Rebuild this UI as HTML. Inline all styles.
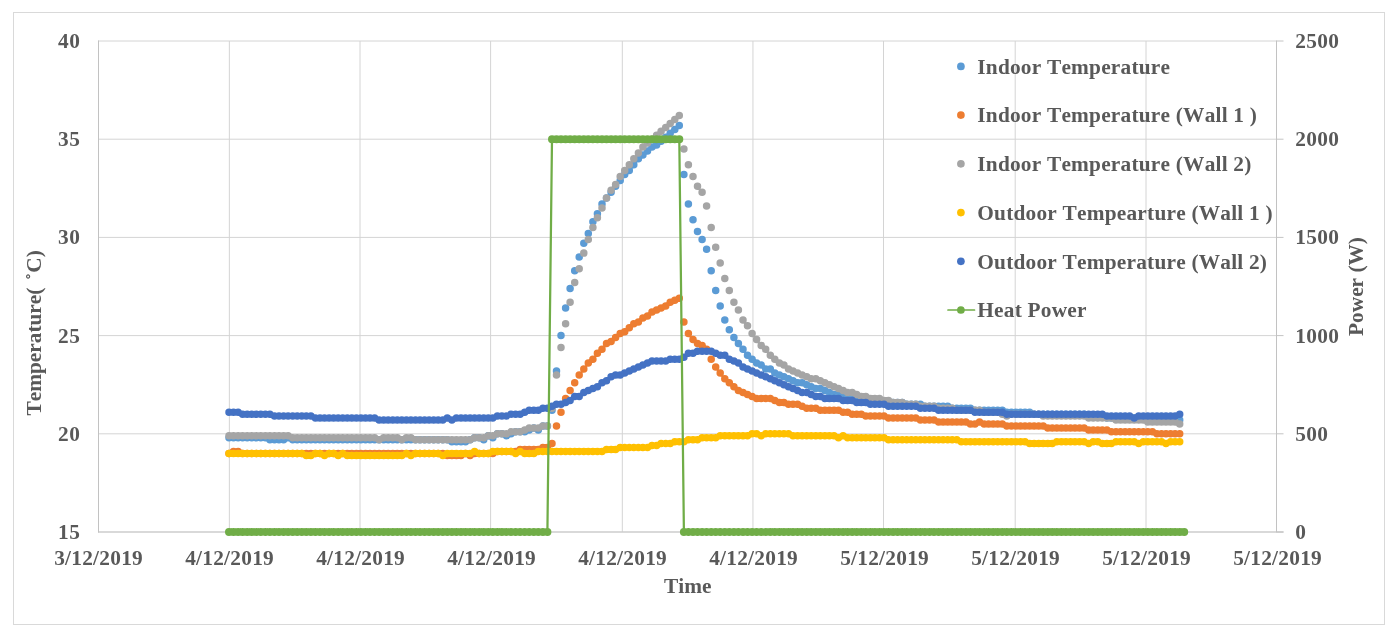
<!DOCTYPE html>
<html lang="en">
<head>
<meta charset="utf-8">
<title>Temperature and Heat Power Chart</title>
<style>
html,body{margin:0;padding:0;background:#fff;}
body{width:1398px;height:637px;overflow:hidden;}
svg{display:block;}
text{font-kerning:none;font-family:"Liberation Serif",serif;font-weight:bold;font-size:21.33px;fill:#595959;}
.d{fill:none;stroke-linecap:round;stroke-width:7.5;}
</style>
</head>
<body>
<svg width="1398" height="637" viewBox="0 0 1398 637">
<rect x="0" y="0" width="1398" height="637" fill="#ffffff"/>
<rect x="13.5" y="12.5" width="1371" height="612" fill="#ffffff" stroke="#D9D9D9" stroke-width="1"/>
<path d="M98.0 41.00H1277.0M98.0 139.20H1277.0M98.0 237.40H1277.0M98.0 335.60H1277.0M98.0 433.80H1277.0M229.35 41.0V532.0M360.00 41.0V532.0M490.60 41.0V532.0M622.30 41.0V532.0M752.95 41.0V532.0M883.50 41.0V532.0M1015.20 41.0V532.0M1146.00 41.0V532.0" stroke="#D4D4D4" stroke-width="1" fill="none"/>
<path d="M98.0 532.0H1283.5" stroke="#CCCCCC" stroke-width="1.5" fill="none"/>
<path d="M1277.0 41.00H1283.5M1277.0 139.20H1283.5M1277.0 237.40H1283.5M1277.0 335.60H1283.5M1277.0 433.80H1283.5M1277.0 532.00H1283.5" stroke="#C4C4C4" stroke-width="1" fill="none"/>
<path d="M98.5 40.5V532.5M1276.5 40.5V532.5" stroke="#C2C2C2" stroke-width="1" fill="none"/>
<text x="80.4" y="47.9" text-anchor="end" letter-spacing="0.5">40</text>
<text x="80.4" y="146.1" text-anchor="end" letter-spacing="0.5">35</text>
<text x="80.4" y="244.3" text-anchor="end" letter-spacing="0.5">30</text>
<text x="80.4" y="342.5" text-anchor="end" letter-spacing="0.5">25</text>
<text x="80.4" y="440.7" text-anchor="end" letter-spacing="0.5">20</text>
<text x="80.4" y="538.9" text-anchor="end" letter-spacing="0.5">15</text>
<text x="1295.3" y="47.9" letter-spacing="0.3">2500</text>
<text x="1295.3" y="146.1" letter-spacing="0.3">2000</text>
<text x="1295.3" y="244.3" letter-spacing="0.3">1500</text>
<text x="1295.3" y="342.5" letter-spacing="0.3">1000</text>
<text x="1295.3" y="440.7" letter-spacing="0.3">500</text>
<text x="1295.3" y="538.9" letter-spacing="0.3">0</text>
<text x="98.6" y="565" text-anchor="middle" letter-spacing="0.27">3/12/2019</text>
<text x="229.6" y="565" text-anchor="middle" letter-spacing="0.27">4/12/2019</text>
<text x="360.6" y="565" text-anchor="middle" letter-spacing="0.27">4/12/2019</text>
<text x="491.6" y="565" text-anchor="middle" letter-spacing="0.27">4/12/2019</text>
<text x="622.6" y="565" text-anchor="middle" letter-spacing="0.27">4/12/2019</text>
<text x="753.6" y="565" text-anchor="middle" letter-spacing="0.27">4/12/2019</text>
<text x="884.6" y="565" text-anchor="middle" letter-spacing="0.27">5/12/2019</text>
<text x="1015.6" y="565" text-anchor="middle" letter-spacing="0.27">5/12/2019</text>
<text x="1146.6" y="565" text-anchor="middle" letter-spacing="0.27">5/12/2019</text>
<text x="1277.6" y="565" text-anchor="middle" letter-spacing="0.27">5/12/2019</text>
<text x="687.8" y="593.4" text-anchor="middle">Time</text>
<text transform="translate(41.4 332.9) rotate(-90)" text-anchor="middle" word-spacing="2.4">Temperature( ˚C)</text>
<text transform="translate(1363.1 286.5) rotate(-90)" text-anchor="middle">Power (W)</text>
<path class="d" stroke="#5B9BD5" d="M229.0 437.7h0M233.5 437.7h0M238.1 437.7h0M242.6 437.7h0M247.2 437.7h0M251.7 437.7h0M256.3 437.7h0M260.8 437.7h0M265.4 437.7h0M269.9 439.7h0M274.5 439.7h0M279.0 439.7h0M283.6 439.7h0M288.1 437.7h0M292.7 439.7h0M297.2 439.7h0M301.8 439.7h0M306.3 439.7h0M310.9 439.7h0M315.4 439.7h0M320.0 439.7h0M324.5 439.7h0M329.1 439.7h0M333.6 439.7h0M338.2 439.7h0M342.7 439.7h0M347.3 439.7h0M351.8 439.7h0M356.4 439.7h0M360.9 439.7h0M365.5 439.7h0M370.0 439.7h0M374.6 439.7h0M379.1 439.7h0M383.7 439.7h0M388.2 439.7h0M392.8 439.7h0M397.3 439.7h0M401.8 439.7h0M406.4 439.7h0M410.9 439.7h0M415.5 439.7h0M420.0 439.7h0M424.6 439.7h0M429.1 439.7h0M433.7 439.7h0M438.2 439.7h0M442.8 439.7h0M447.3 439.7h0M451.9 441.7h0M456.4 441.7h0M461.0 441.7h0M465.5 441.7h0M470.1 439.7h0M474.6 437.7h0M479.2 437.7h0M483.7 439.7h0M488.3 435.8h0M492.8 437.7h0M497.4 433.8h0M501.9 433.8h0M506.5 435.8h0M511.0 433.8h0M515.6 431.8h0M520.1 431.8h0M524.7 431.8h0M529.2 429.9h0M533.8 427.9h0M538.3 429.9h0M542.9 425.9h0M547.4 425.9h0M552.0 410.2h0M556.5 371.0h0M561.0 335.6h0M565.6 308.1h0M570.1 288.5h0M574.7 270.8h0M579.2 257.0h0M583.8 243.3h0M588.3 233.5h0M592.9 221.7h0M597.4 213.8h0M602.0 204.0h0M606.5 198.1h0M611.1 192.2h0M615.6 186.3h0M620.2 180.4h0M624.7 174.6h0M629.3 170.6h0M633.8 164.7h0M638.4 158.8h0M642.9 154.9h0M647.5 151.0h0M652.0 147.1h0M656.6 145.1h0M661.1 141.2h0M665.7 137.2h0M670.2 133.3h0M674.8 129.4h0M679.3 125.5h0M683.9 174.6h0M688.4 204.0h0M693.0 219.7h0M697.5 231.5h0M702.1 239.4h0M706.6 249.2h0M711.2 270.8h0M715.7 290.4h0M720.2 306.1h0M724.8 319.9h0M729.3 329.7h0M733.9 337.6h0M738.4 343.5h0M743.0 349.3h0M747.5 355.2h0M752.1 359.2h0M756.6 363.1h0M761.2 365.1h0M765.7 369.0h0M770.3 369.0h0M774.8 372.9h0M779.4 374.9h0M783.9 376.8h0M788.5 378.8h0M793.0 380.8h0M797.6 382.7h0M802.1 382.7h0M806.7 384.7h0M811.2 386.7h0M815.8 388.6h0M820.3 388.6h0M824.9 390.6h0M829.4 392.6h0M834.0 394.5h0M838.5 394.5h0M843.1 396.5h0M847.6 396.5h0M852.2 398.4h0M856.7 398.4h0M861.3 398.4h0M865.8 400.4h0M870.4 400.4h0M874.9 400.4h0M879.5 400.4h0M884.0 402.4h0M888.5 402.4h0M893.1 402.4h0M897.6 402.4h0M902.2 402.4h0M906.7 404.3h0M911.3 404.3h0M915.8 404.3h0M920.4 404.3h0M924.9 406.3h0M929.5 406.3h0M934.0 406.3h0M938.6 406.3h0M943.1 406.3h0M947.7 406.3h0M952.2 408.3h0M956.8 408.3h0M961.3 408.3h0M965.9 408.3h0M970.4 408.3h0M975.0 410.2h0M979.5 410.2h0M984.1 410.2h0M988.6 410.2h0M993.2 410.2h0M997.7 410.2h0M1002.3 410.2h0M1006.8 412.2h0M1011.4 412.2h0M1015.9 412.2h0M1020.5 412.2h0M1025.0 412.2h0M1029.6 412.2h0M1034.1 414.2h0M1038.7 414.2h0M1043.2 414.2h0M1047.8 414.2h0M1052.3 414.2h0M1056.8 414.2h0M1061.4 414.2h0M1065.9 414.2h0M1070.5 414.2h0M1075.0 414.2h0M1079.6 414.2h0M1084.1 414.2h0M1088.7 416.1h0M1093.2 416.1h0M1097.8 416.1h0M1102.3 416.1h0M1106.9 418.1h0M1111.4 418.1h0M1116.0 418.1h0M1120.5 418.1h0M1125.1 418.1h0M1129.6 418.1h0M1134.2 418.1h0M1138.7 418.1h0M1143.3 418.1h0M1147.8 420.1h0M1152.4 420.1h0M1156.9 420.1h0M1161.5 420.1h0M1166.0 420.1h0M1170.6 420.1h0M1175.1 420.1h0M1179.7 420.1h0"/>
<path class="d" stroke="#ED7D31" d="M229.0 453.4h0M233.5 451.5h0M238.1 451.5h0M242.6 453.4h0M247.2 453.4h0M251.7 453.4h0M256.3 453.4h0M260.8 453.4h0M265.4 453.4h0M269.9 453.4h0M274.5 453.4h0M279.0 453.4h0M283.6 453.4h0M288.1 453.4h0M292.7 453.4h0M297.2 453.4h0M301.8 453.4h0M306.3 453.4h0M310.9 453.4h0M315.4 453.4h0M320.0 453.4h0M324.5 453.4h0M329.1 453.4h0M333.6 453.4h0M338.2 453.4h0M342.7 453.4h0M347.3 453.4h0M351.8 453.4h0M356.4 453.4h0M360.9 453.4h0M365.5 453.4h0M370.0 453.4h0M374.6 453.4h0M379.1 453.4h0M383.7 453.4h0M388.2 453.4h0M392.8 453.4h0M397.3 453.4h0M401.8 453.4h0M406.4 453.4h0M410.9 453.4h0M415.5 453.4h0M420.0 453.4h0M424.6 453.4h0M429.1 453.4h0M433.7 453.4h0M438.2 453.4h0M442.8 453.4h0M447.3 455.4h0M451.9 455.4h0M456.4 455.4h0M461.0 455.4h0M465.5 453.4h0M470.1 455.4h0M474.6 453.4h0M479.2 453.4h0M483.7 453.4h0M488.3 453.4h0M492.8 453.4h0M497.4 451.5h0M501.9 451.5h0M506.5 451.5h0M511.0 451.5h0M515.6 451.5h0M520.1 449.5h0M524.7 449.5h0M529.2 449.5h0M533.8 449.5h0M538.3 449.5h0M542.9 447.5h0M547.4 447.5h0M552.0 443.6h0M556.5 425.9h0M561.0 412.2h0M565.6 398.4h0M570.1 390.6h0M574.7 382.7h0M579.2 374.9h0M583.8 369.0h0M588.3 363.1h0M592.9 359.2h0M597.4 353.3h0M602.0 349.3h0M606.5 343.5h0M611.1 341.5h0M615.6 337.6h0M620.2 333.6h0M624.7 331.7h0M629.3 327.7h0M633.8 323.8h0M638.4 321.9h0M642.9 317.9h0M647.5 316.0h0M652.0 312.0h0M656.6 310.1h0M661.1 308.1h0M665.7 306.1h0M670.2 302.2h0M674.8 300.2h0M679.3 298.3h0M683.9 321.9h0M688.4 333.6h0M693.0 339.5h0M697.5 343.5h0M702.1 345.4h0M706.6 349.3h0M711.2 359.2h0M715.7 367.0h0M720.2 372.9h0M724.8 378.8h0M729.3 382.7h0M733.9 386.7h0M738.4 390.6h0M743.0 392.6h0M747.5 394.5h0M752.1 396.5h0M756.6 398.4h0M761.2 398.4h0M765.7 398.4h0M770.3 398.4h0M774.8 400.4h0M779.4 402.4h0M783.9 402.4h0M788.5 404.3h0M793.0 404.3h0M797.6 404.3h0M802.1 406.3h0M806.7 408.3h0M811.2 408.3h0M815.8 408.3h0M820.3 410.2h0M824.9 410.2h0M829.4 410.2h0M834.0 410.2h0M838.5 410.2h0M843.1 412.2h0M847.6 412.2h0M852.2 414.2h0M856.7 414.2h0M861.3 414.2h0M865.8 416.1h0M870.4 416.1h0M874.9 416.1h0M879.5 416.1h0M884.0 416.1h0M888.5 418.1h0M893.1 418.1h0M897.6 418.1h0M902.2 418.1h0M906.7 418.1h0M911.3 418.1h0M915.8 418.1h0M920.4 420.1h0M924.9 420.1h0M929.5 420.1h0M934.0 420.1h0M938.6 422.0h0M943.1 422.0h0M947.7 422.0h0M952.2 422.0h0M956.8 422.0h0M961.3 422.0h0M965.9 422.0h0M970.4 424.0h0M975.0 424.0h0M979.5 422.0h0M984.1 424.0h0M988.6 424.0h0M993.2 424.0h0M997.7 424.0h0M1002.3 424.0h0M1006.8 425.9h0M1011.4 425.9h0M1015.9 425.9h0M1020.5 425.9h0M1025.0 425.9h0M1029.6 425.9h0M1034.1 425.9h0M1038.7 425.9h0M1043.2 425.9h0M1047.8 427.9h0M1052.3 427.9h0M1056.8 427.9h0M1061.4 427.9h0M1065.9 427.9h0M1070.5 427.9h0M1075.0 427.9h0M1079.6 427.9h0M1084.1 427.9h0M1088.7 429.9h0M1093.2 429.9h0M1097.8 429.9h0M1102.3 429.9h0M1106.9 429.9h0M1111.4 431.8h0M1116.0 431.8h0M1120.5 431.8h0M1125.1 431.8h0M1129.6 431.8h0M1134.2 431.8h0M1138.7 431.8h0M1143.3 431.8h0M1147.8 431.8h0M1152.4 431.8h0M1156.9 433.8h0M1161.5 433.8h0M1166.0 433.8h0M1170.6 433.8h0M1175.1 433.8h0M1179.7 433.8h0"/>
<path class="d" stroke="#A5A5A5" d="M229.0 435.8h0M233.5 435.8h0M238.1 435.8h0M242.6 435.8h0M247.2 435.8h0M251.7 435.8h0M256.3 435.8h0M260.8 435.8h0M265.4 435.8h0M269.9 435.8h0M274.5 435.8h0M279.0 435.8h0M283.6 435.8h0M288.1 435.8h0M292.7 437.7h0M297.2 437.7h0M301.8 437.7h0M306.3 437.7h0M310.9 437.7h0M315.4 437.7h0M320.0 437.7h0M324.5 437.7h0M329.1 437.7h0M333.6 437.7h0M338.2 437.7h0M342.7 437.7h0M347.3 437.7h0M351.8 437.7h0M356.4 437.7h0M360.9 437.7h0M365.5 437.7h0M370.0 437.7h0M374.6 437.7h0M379.1 439.7h0M383.7 437.7h0M388.2 437.7h0M392.8 437.7h0M397.3 437.7h0M401.8 439.7h0M406.4 437.7h0M410.9 437.7h0M415.5 439.7h0M420.0 439.7h0M424.6 439.7h0M429.1 439.7h0M433.7 439.7h0M438.2 439.7h0M442.8 439.7h0M447.3 439.7h0M451.9 439.7h0M456.4 439.7h0M461.0 439.7h0M465.5 439.7h0M470.1 439.7h0M474.6 437.7h0M479.2 437.7h0M483.7 437.7h0M488.3 435.8h0M492.8 435.8h0M497.4 433.8h0M501.9 433.8h0M506.5 433.8h0M511.0 431.8h0M515.6 431.8h0M520.1 431.8h0M524.7 429.9h0M529.2 427.9h0M533.8 427.9h0M538.3 427.9h0M542.9 425.9h0M547.4 425.9h0M552.0 408.3h0M556.5 374.9h0M561.0 347.4h0M565.6 323.8h0M570.1 302.2h0M574.7 282.6h0M579.2 268.8h0M583.8 253.1h0M588.3 239.4h0M592.9 227.6h0M597.4 217.8h0M602.0 207.9h0M606.5 198.1h0M611.1 190.3h0M615.6 184.4h0M620.2 176.5h0M624.7 170.6h0M629.3 164.7h0M633.8 158.8h0M638.4 152.9h0M642.9 147.1h0M647.5 143.1h0M652.0 139.2h0M656.6 135.3h0M661.1 131.3h0M665.7 127.4h0M670.2 123.5h0M674.8 119.6h0M679.3 115.6h0M683.9 149.0h0M688.4 164.7h0M693.0 176.5h0M697.5 186.3h0M702.1 192.2h0M706.6 206.0h0M711.2 227.6h0M715.7 247.2h0M720.2 262.9h0M724.8 278.6h0M729.3 290.4h0M733.9 302.2h0M738.4 310.1h0M743.0 319.9h0M747.5 325.8h0M752.1 333.6h0M756.6 339.5h0M761.2 345.4h0M765.7 349.3h0M770.3 355.2h0M774.8 359.2h0M779.4 363.1h0M783.9 365.1h0M788.5 369.0h0M793.0 371.0h0M797.6 372.9h0M802.1 374.9h0M806.7 376.8h0M811.2 378.8h0M815.8 378.8h0M820.3 380.8h0M824.9 382.7h0M829.4 384.7h0M834.0 386.7h0M838.5 388.6h0M843.1 390.6h0M847.6 392.6h0M852.2 392.6h0M856.7 394.5h0M861.3 396.5h0M865.8 396.5h0M870.4 398.4h0M874.9 398.4h0M879.5 398.4h0M884.0 400.4h0M888.5 400.4h0M893.1 402.4h0M897.6 402.4h0M902.2 402.4h0M906.7 404.3h0M911.3 404.3h0M915.8 404.3h0M920.4 406.3h0M924.9 406.3h0M929.5 406.3h0M934.0 406.3h0M938.6 408.3h0M943.1 408.3h0M947.7 408.3h0M952.2 408.3h0M956.8 410.2h0M961.3 410.2h0M965.9 410.2h0M970.4 410.2h0M975.0 410.2h0M979.5 410.2h0M984.1 412.2h0M988.6 412.2h0M993.2 412.2h0M997.7 412.2h0M1002.3 414.2h0M1006.8 416.1h0M1011.4 414.2h0M1015.9 414.2h0M1020.5 414.2h0M1025.0 414.2h0M1029.6 414.2h0M1034.1 414.2h0M1038.7 414.2h0M1043.2 416.1h0M1047.8 416.1h0M1052.3 416.1h0M1056.8 416.1h0M1061.4 416.1h0M1065.9 416.1h0M1070.5 416.1h0M1075.0 416.1h0M1079.6 416.1h0M1084.1 416.1h0M1088.7 418.1h0M1093.2 418.1h0M1097.8 418.1h0M1102.3 418.1h0M1106.9 418.1h0M1111.4 418.1h0M1116.0 420.1h0M1120.5 420.1h0M1125.1 420.1h0M1129.6 420.1h0M1134.2 420.1h0M1138.7 420.1h0M1143.3 420.1h0M1147.8 422.0h0M1152.4 422.0h0M1156.9 422.0h0M1161.5 422.0h0M1166.0 422.0h0M1170.6 422.0h0M1175.1 422.0h0M1179.7 424.0h0"/>
<path class="d" stroke="#FFC000" d="M229.0 453.4h0M233.5 453.4h0M238.1 453.4h0M242.6 453.4h0M247.2 453.4h0M251.7 453.4h0M256.3 453.4h0M260.8 453.4h0M265.4 453.4h0M269.9 453.4h0M274.5 453.4h0M279.0 453.4h0M283.6 453.4h0M288.1 453.4h0M292.7 453.4h0M297.2 453.4h0M301.8 453.4h0M306.3 455.4h0M310.9 455.4h0M315.4 453.4h0M320.0 453.4h0M324.5 455.4h0M329.1 453.4h0M333.6 453.4h0M338.2 455.4h0M342.7 453.4h0M347.3 455.4h0M351.8 455.4h0M356.4 455.4h0M360.9 455.4h0M365.5 455.4h0M370.0 455.4h0M374.6 455.4h0M379.1 455.4h0M383.7 455.4h0M388.2 455.4h0M392.8 455.4h0M397.3 455.4h0M401.8 455.4h0M406.4 453.4h0M410.9 455.4h0M415.5 453.4h0M420.0 453.4h0M424.6 453.4h0M429.1 453.4h0M433.7 453.4h0M438.2 453.4h0M442.8 455.4h0M447.3 453.4h0M451.9 453.4h0M456.4 453.4h0M461.0 453.4h0M465.5 453.4h0M470.1 453.4h0M474.6 451.5h0M479.2 453.4h0M483.7 453.4h0M488.3 453.4h0M492.8 451.5h0M497.4 451.5h0M501.9 451.5h0M506.5 451.5h0M511.0 451.5h0M515.6 453.4h0M520.1 451.5h0M524.7 453.4h0M529.2 453.4h0M533.8 453.4h0M538.3 451.5h0M542.9 451.5h0M547.4 451.5h0M552.0 451.5h0M556.5 451.5h0M561.0 451.5h0M565.6 451.5h0M570.1 451.5h0M574.7 451.5h0M579.2 451.5h0M583.8 451.5h0M588.3 451.5h0M592.9 451.5h0M597.4 451.5h0M602.0 451.5h0M606.5 449.5h0M611.1 449.5h0M615.6 449.5h0M620.2 447.5h0M624.7 447.5h0M629.3 447.5h0M633.8 447.5h0M638.4 447.5h0M642.9 447.5h0M647.5 447.5h0M652.0 445.6h0M656.6 445.6h0M661.1 443.6h0M665.7 443.6h0M670.2 443.6h0M674.8 441.7h0M679.3 441.7h0M683.9 441.7h0M688.4 439.7h0M693.0 439.7h0M697.5 439.7h0M702.1 437.7h0M706.6 437.7h0M711.2 437.7h0M715.7 437.7h0M720.2 435.8h0M724.8 435.8h0M729.3 435.8h0M733.9 435.8h0M738.4 435.8h0M743.0 435.8h0M747.5 435.8h0M752.1 433.8h0M756.6 433.8h0M761.2 435.8h0M765.7 433.8h0M770.3 433.8h0M774.8 433.8h0M779.4 433.8h0M783.9 433.8h0M788.5 433.8h0M793.0 435.8h0M797.6 435.8h0M802.1 435.8h0M806.7 435.8h0M811.2 435.8h0M815.8 435.8h0M820.3 435.8h0M824.9 435.8h0M829.4 435.8h0M834.0 435.8h0M838.5 437.7h0M843.1 435.8h0M847.6 437.7h0M852.2 437.7h0M856.7 437.7h0M861.3 437.7h0M865.8 437.7h0M870.4 437.7h0M874.9 437.7h0M879.5 437.7h0M884.0 437.7h0M888.5 439.7h0M893.1 439.7h0M897.6 439.7h0M902.2 439.7h0M906.7 439.7h0M911.3 439.7h0M915.8 439.7h0M920.4 439.7h0M924.9 439.7h0M929.5 439.7h0M934.0 439.7h0M938.6 439.7h0M943.1 439.7h0M947.7 439.7h0M952.2 439.7h0M956.8 439.7h0M961.3 441.7h0M965.9 441.7h0M970.4 441.7h0M975.0 441.7h0M979.5 441.7h0M984.1 441.7h0M988.6 441.7h0M993.2 441.7h0M997.7 441.7h0M1002.3 441.7h0M1006.8 441.7h0M1011.4 441.7h0M1015.9 441.7h0M1020.5 441.7h0M1025.0 441.7h0M1029.6 443.6h0M1034.1 443.6h0M1038.7 443.6h0M1043.2 443.6h0M1047.8 443.6h0M1052.3 443.6h0M1056.8 441.7h0M1061.4 441.7h0M1065.9 441.7h0M1070.5 441.7h0M1075.0 441.7h0M1079.6 441.7h0M1084.1 441.7h0M1088.7 443.6h0M1093.2 441.7h0M1097.8 441.7h0M1102.3 443.6h0M1106.9 443.6h0M1111.4 443.6h0M1116.0 441.7h0M1120.5 441.7h0M1125.1 441.7h0M1129.6 441.7h0M1134.2 441.7h0M1138.7 443.6h0M1143.3 441.7h0M1147.8 441.7h0M1152.4 441.7h0M1156.9 441.7h0M1161.5 441.7h0M1166.0 443.6h0M1170.6 441.7h0M1175.1 441.7h0M1179.7 441.7h0"/>
<path class="d" stroke="#4472C4" d="M229.0 412.2h0M233.5 412.2h0M238.1 412.2h0M242.6 414.2h0M247.2 414.2h0M251.7 414.2h0M256.3 414.2h0M260.8 414.2h0M265.4 414.2h0M269.9 414.2h0M274.5 416.1h0M279.0 416.1h0M283.6 416.1h0M288.1 416.1h0M292.7 416.1h0M297.2 416.1h0M301.8 416.1h0M306.3 416.1h0M310.9 416.1h0M315.4 418.1h0M320.0 418.1h0M324.5 418.1h0M329.1 418.1h0M333.6 418.1h0M338.2 418.1h0M342.7 418.1h0M347.3 418.1h0M351.8 418.1h0M356.4 418.1h0M360.9 418.1h0M365.5 418.1h0M370.0 418.1h0M374.6 418.1h0M379.1 420.1h0M383.7 420.1h0M388.2 420.1h0M392.8 420.1h0M397.3 420.1h0M401.8 420.1h0M406.4 420.1h0M410.9 420.1h0M415.5 420.1h0M420.0 420.1h0M424.6 420.1h0M429.1 420.1h0M433.7 420.1h0M438.2 420.1h0M442.8 420.1h0M447.3 418.1h0M451.9 420.1h0M456.4 418.1h0M461.0 418.1h0M465.5 418.1h0M470.1 418.1h0M474.6 418.1h0M479.2 418.1h0M483.7 418.1h0M488.3 418.1h0M492.8 418.1h0M497.4 416.1h0M501.9 416.1h0M506.5 416.1h0M511.0 414.2h0M515.6 414.2h0M520.1 414.2h0M524.7 412.2h0M529.2 410.2h0M533.8 410.2h0M538.3 410.2h0M542.9 408.3h0M547.4 408.3h0M552.0 406.3h0M556.5 404.3h0M561.0 404.3h0M565.6 402.4h0M570.1 400.4h0M574.7 396.5h0M579.2 396.5h0M583.8 392.6h0M588.3 390.6h0M592.9 388.6h0M597.4 386.7h0M602.0 382.7h0M606.5 380.8h0M611.1 376.8h0M615.6 374.9h0M620.2 374.9h0M624.7 372.9h0M629.3 371.0h0M633.8 369.0h0M638.4 367.0h0M642.9 365.1h0M647.5 363.1h0M652.0 361.1h0M656.6 361.1h0M661.1 361.1h0M665.7 361.1h0M670.2 359.2h0M674.8 359.2h0M679.3 359.2h0M683.9 357.2h0M688.4 353.3h0M693.0 353.3h0M697.5 351.3h0M702.1 351.3h0M706.6 351.3h0M711.2 351.3h0M715.7 353.3h0M720.2 355.2h0M724.8 355.2h0M729.3 359.2h0M733.9 361.1h0M738.4 363.1h0M743.0 367.0h0M747.5 369.0h0M752.1 371.0h0M756.6 372.9h0M761.2 374.9h0M765.7 376.8h0M770.3 378.8h0M774.8 380.8h0M779.4 382.7h0M783.9 384.7h0M788.5 386.7h0M793.0 388.6h0M797.6 390.6h0M802.1 392.6h0M806.7 392.6h0M811.2 394.5h0M815.8 396.5h0M820.3 396.5h0M824.9 398.4h0M829.4 398.4h0M834.0 398.4h0M838.5 398.4h0M843.1 400.4h0M847.6 400.4h0M852.2 400.4h0M856.7 402.4h0M861.3 402.4h0M865.8 402.4h0M870.4 404.3h0M874.9 404.3h0M879.5 404.3h0M884.0 404.3h0M888.5 406.3h0M893.1 406.3h0M897.6 406.3h0M902.2 406.3h0M906.7 406.3h0M911.3 406.3h0M915.8 406.3h0M920.4 408.3h0M924.9 408.3h0M929.5 408.3h0M934.0 408.3h0M938.6 410.2h0M943.1 410.2h0M947.7 410.2h0M952.2 410.2h0M956.8 410.2h0M961.3 410.2h0M965.9 410.2h0M970.4 410.2h0M975.0 412.2h0M979.5 412.2h0M984.1 412.2h0M988.6 412.2h0M993.2 412.2h0M997.7 412.2h0M1002.3 412.2h0M1006.8 414.2h0M1011.4 414.2h0M1015.9 414.2h0M1020.5 414.2h0M1025.0 414.2h0M1029.6 414.2h0M1034.1 414.2h0M1038.7 414.2h0M1043.2 414.2h0M1047.8 414.2h0M1052.3 414.2h0M1056.8 414.2h0M1061.4 414.2h0M1065.9 414.2h0M1070.5 414.2h0M1075.0 414.2h0M1079.6 414.2h0M1084.1 414.2h0M1088.7 414.2h0M1093.2 414.2h0M1097.8 414.2h0M1102.3 414.2h0M1106.9 416.1h0M1111.4 416.1h0M1116.0 416.1h0M1120.5 416.1h0M1125.1 416.1h0M1129.6 416.1h0M1134.2 418.1h0M1138.7 416.1h0M1143.3 416.1h0M1147.8 416.1h0M1152.4 416.1h0M1156.9 416.1h0M1161.5 416.1h0M1166.0 416.1h0M1170.6 416.1h0M1175.1 416.1h0M1179.7 414.2h0"/>
<path d="M229.0 532.0L547.4 532.0L552.0 139.2L679.3 139.2L683.9 532.0L1184.2 532.0" fill="none" stroke="#70AD47" stroke-width="2.25" stroke-linejoin="round"/>
<path class="d" stroke="#70AD47" style="stroke-width:8" d="M229.0 532.0h0M233.5 532.0h0M238.1 532.0h0M242.6 532.0h0M247.2 532.0h0M251.7 532.0h0M256.3 532.0h0M260.8 532.0h0M265.4 532.0h0M269.9 532.0h0M274.5 532.0h0M279.0 532.0h0M283.6 532.0h0M288.1 532.0h0M292.7 532.0h0M297.2 532.0h0M301.8 532.0h0M306.3 532.0h0M310.9 532.0h0M315.4 532.0h0M320.0 532.0h0M324.5 532.0h0M329.1 532.0h0M333.6 532.0h0M338.2 532.0h0M342.7 532.0h0M347.3 532.0h0M351.8 532.0h0M356.4 532.0h0M360.9 532.0h0M365.5 532.0h0M370.0 532.0h0M374.6 532.0h0M379.1 532.0h0M383.7 532.0h0M388.2 532.0h0M392.8 532.0h0M397.3 532.0h0M401.8 532.0h0M406.4 532.0h0M410.9 532.0h0M415.5 532.0h0M420.0 532.0h0M424.6 532.0h0M429.1 532.0h0M433.7 532.0h0M438.2 532.0h0M442.8 532.0h0M447.3 532.0h0M451.9 532.0h0M456.4 532.0h0M461.0 532.0h0M465.5 532.0h0M470.1 532.0h0M474.6 532.0h0M479.2 532.0h0M483.7 532.0h0M488.3 532.0h0M492.8 532.0h0M497.4 532.0h0M501.9 532.0h0M506.5 532.0h0M511.0 532.0h0M515.6 532.0h0M520.1 532.0h0M524.7 532.0h0M529.2 532.0h0M533.8 532.0h0M538.3 532.0h0M542.9 532.0h0M547.4 532.0h0M552.0 139.2h0M556.5 139.2h0M561.0 139.2h0M565.6 139.2h0M570.1 139.2h0M574.7 139.2h0M579.2 139.2h0M583.8 139.2h0M588.3 139.2h0M592.9 139.2h0M597.4 139.2h0M602.0 139.2h0M606.5 139.2h0M611.1 139.2h0M615.6 139.2h0M620.2 139.2h0M624.7 139.2h0M629.3 139.2h0M633.8 139.2h0M638.4 139.2h0M642.9 139.2h0M647.5 139.2h0M652.0 139.2h0M656.6 139.2h0M661.1 139.2h0M665.7 139.2h0M670.2 139.2h0M674.8 139.2h0M679.3 139.2h0M683.9 532.0h0M688.4 532.0h0M693.0 532.0h0M697.5 532.0h0M702.1 532.0h0M706.6 532.0h0M711.2 532.0h0M715.7 532.0h0M720.2 532.0h0M724.8 532.0h0M729.3 532.0h0M733.9 532.0h0M738.4 532.0h0M743.0 532.0h0M747.5 532.0h0M752.1 532.0h0M756.6 532.0h0M761.2 532.0h0M765.7 532.0h0M770.3 532.0h0M774.8 532.0h0M779.4 532.0h0M783.9 532.0h0M788.5 532.0h0M793.0 532.0h0M797.6 532.0h0M802.1 532.0h0M806.7 532.0h0M811.2 532.0h0M815.8 532.0h0M820.3 532.0h0M824.9 532.0h0M829.4 532.0h0M834.0 532.0h0M838.5 532.0h0M843.1 532.0h0M847.6 532.0h0M852.2 532.0h0M856.7 532.0h0M861.3 532.0h0M865.8 532.0h0M870.4 532.0h0M874.9 532.0h0M879.5 532.0h0M884.0 532.0h0M888.5 532.0h0M893.1 532.0h0M897.6 532.0h0M902.2 532.0h0M906.7 532.0h0M911.3 532.0h0M915.8 532.0h0M920.4 532.0h0M924.9 532.0h0M929.5 532.0h0M934.0 532.0h0M938.6 532.0h0M943.1 532.0h0M947.7 532.0h0M952.2 532.0h0M956.8 532.0h0M961.3 532.0h0M965.9 532.0h0M970.4 532.0h0M975.0 532.0h0M979.5 532.0h0M984.1 532.0h0M988.6 532.0h0M993.2 532.0h0M997.7 532.0h0M1002.3 532.0h0M1006.8 532.0h0M1011.4 532.0h0M1015.9 532.0h0M1020.5 532.0h0M1025.0 532.0h0M1029.6 532.0h0M1034.1 532.0h0M1038.7 532.0h0M1043.2 532.0h0M1047.8 532.0h0M1052.3 532.0h0M1056.8 532.0h0M1061.4 532.0h0M1065.9 532.0h0M1070.5 532.0h0M1075.0 532.0h0M1079.6 532.0h0M1084.1 532.0h0M1088.7 532.0h0M1093.2 532.0h0M1097.8 532.0h0M1102.3 532.0h0M1106.9 532.0h0M1111.4 532.0h0M1116.0 532.0h0M1120.5 532.0h0M1125.1 532.0h0M1129.6 532.0h0M1134.2 532.0h0M1138.7 532.0h0M1143.3 532.0h0M1147.8 532.0h0M1152.4 532.0h0M1156.9 532.0h0M1161.5 532.0h0M1166.0 532.0h0M1170.6 532.0h0M1175.1 532.0h0M1179.7 532.0h0M1184.2 532.0h0"/>
<circle cx="960.9" cy="66.4" r="3.85" fill="#5B9BD5"/>
<text x="977.3" y="73.7" letter-spacing="0.22">Indoor Temperature</text>
<circle cx="960.9" cy="115.1" r="3.85" fill="#ED7D31"/>
<text x="977.3" y="122.4" letter-spacing="0.22">Indoor Temperature (Wall 1 )</text>
<circle cx="960.9" cy="163.8" r="3.85" fill="#A5A5A5"/>
<text x="977.3" y="171.1" letter-spacing="0.22">Indoor Temperature (Wall 2)</text>
<circle cx="960.9" cy="212.6" r="3.85" fill="#FFC000"/>
<text x="977.3" y="219.9" letter-spacing="0.22">Outdoor Tempearture (Wall 1 )</text>
<circle cx="960.9" cy="261.3" r="3.85" fill="#4472C4"/>
<text x="977.3" y="268.6" letter-spacing="0.22">Outdoor Temperature (Wall 2)</text>
<path d="M948 310.0H974.5" stroke="#70AD47" stroke-width="1.7" stroke-linecap="round" fill="none"/>
<circle cx="960.9" cy="310.0" r="3.85" fill="#70AD47"/>
<text x="977.3" y="317.3" letter-spacing="0.22">Heat Power</text>
</svg>
</body>
</html>
